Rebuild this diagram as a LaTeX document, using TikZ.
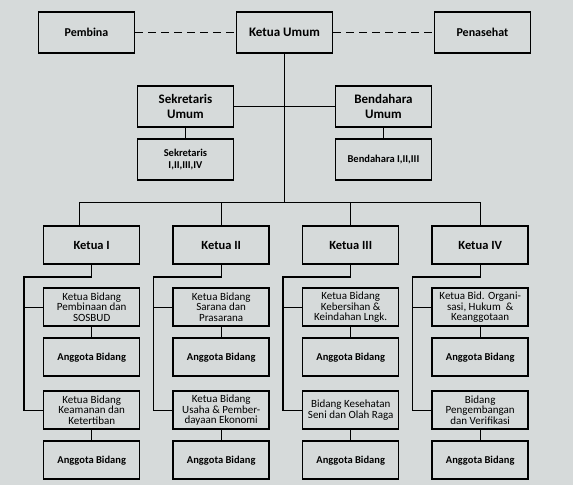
\documentclass[tikz,border=0pt]{standalone}
\usepackage{fontspec}
\setmainfont{Carlito}
\usetikzlibrary{matrix,positioning,calc}
\definecolor{paper}{RGB}{214,218,218}

\begin{document}
\begin{tikzpicture}[x=1pt, y=-1pt,
	  box/.style={draw, line width=1.5pt, minimum width=96pt, minimum height=41pt, align=center, inner sep=2pt},
	  head/.style={box, font=\bfseries\fontsize{13}{14.5}\selectfont},
	  kt/.style={box, minimum height=38pt, font=\bfseries\fontsize{12.5}{14}\selectfont},
	  bid/.style={box, minimum height=38pt, inner sep=1pt, font=\fontsize{11}{10.7}\selectfont},
	  ag/.style={box, minimum height=38pt, font=\bfseries\fontsize{10.5}{12}\selectfont},
	  link/.style={line width=1.3pt}]
	  \useasboundingbox (0,0) rectangle (573,485);
	  \fill[paper] (0,0) rectangle (573,485);
	  % pengurus inti
	  \matrix (top) [anchor=north west, inner sep=0pt, row sep=10.5pt, column sep=1.5pt] at (37.5,11)
	  {
		\node[head, font=\bfseries\fontsize{12}{14}\selectfont] (pembina) {Pembina}; & &
		\node[head] (ketum) {Ketua Umum}; & &
		\node[head, font=\bfseries\fontsize{12}{14}\selectfont] (penasehat) {Penasehat}; \\[21pt]
		& \node[head] (sekum) {Sekretaris\\Umum}; & & \node[head] (bendum) {Bendahara\\Umum}; & \\
		& \node[head, font=\bfseries\fontsize{10.5}{12}\selectfont] (sek) {Sekretaris\\I,II,III,IV}; & &
		\node[head, font=\bfseries\fontsize{10.5}{12}\selectfont] (bend) {Bendahara I,II,III}; & \\
	  };
	  % bidang
	  \matrix (bidang) [anchor=north west, inner sep=0pt, row sep=10.5pt, column sep=32pt] at (42.75,225.25)
	  {
		\node[kt] (ketua1) {Ketua I}; & \node[kt] (ketua2) {Ketua II}; &
		\node[kt] (ketua3) {Ketua III}; & \node[kt] (ketua4) {Ketua IV}; \\[12pt]
		\node[bid] (bidA1) {Ketua Bidang\\Pembinaan dan\\SOSBUD}; &
		\node[bid] (bidA2) {Ketua Bidang\\Sarana dan\\Prasarana}; &
		\node[bid] (bidA3) {Ketua Bidang\\Kebersihan \&\\Keindahan Lngk.}; &
		\node[bid] (bidA4) {Ketua Bid. Organi-\\sasi, Hukum \ \&\\Keanggotaan}; \\
		\node[ag] (angA1) {Anggota Bidang}; & \node[ag] (angA2) {Anggota Bidang}; &
		\node[ag] (angA3) {Anggota Bidang}; & \node[ag] (angA4) {Anggota Bidang}; \\[3pt]
		\node[bid] (bidB1) {Ketua Bidang\\Keamanan dan\\Ketertiban}; &
		\node[bid] (bidB2) {Ketua Bidang\\Usaha \& Pember-\\dayaan Ekonomi}; &
		\node[bid] (bidB3) {Bidang Kesehatan\\Seni dan Olah Raga}; &
		\node[bid] (bidB4) {Bidang\\Pengembangan\\dan Verifikasi}; \\
		\node[ag] (angB1) {Anggota Bidang}; & \node[ag] (angB2) {Anggota Bidang}; &
		\node[ag] (angB3) {Anggota Bidang}; & \node[ag] (angB4) {Anggota Bidang}; \\
	  };
	  \coordinate (bus) at ($(ketum.south)+(0,149)$);
	  \path[link, dash pattern=on 8pt off 5pt]
	  (pembina) edge (ketum)
	  (ketum) edge (penasehat);
	  \path[link]
	  (sekum) edge (bendum)
	          edge (sek)
	  (bendum) edge (bend)
	  (ketum) edge (bus)
	  (ketua2) edge (ketua2 |- bus)
	  (ketua3) edge (ketua3 |- bus);
	  \draw[link] ([xshift=-12pt]ketua1.north) |- (bus) -| (ketua4);
	  % garis ketua ke bidang
	  \draw[link] (ketua1.south) -- ++(0,12) -| ([xshift=-19pt]bidB1.west) -- (bidB1);
	  \draw[link] (ketua2.south) -- ++(0,12) -| ([xshift=-19pt]bidB2.west) -- (bidB2);
	  \draw[link] (ketua3.south) -- ++(0,12) -| ([xshift=-19pt]bidB3.west) -- (bidB3);
	  \draw[link] (ketua4.south) -- ++(0,12) -| ([xshift=-19pt]bidB4.west) -- (bidB4);
	  \path[link]
	  ([xshift=-19pt]bidA1.west) edge (bidA1)
	  ([xshift=-19pt]bidA2.west) edge (bidA2)
	  ([xshift=-19pt]bidA3.west) edge (bidA3)
	  ([xshift=-19pt]bidA4.west) edge (bidA4)
	  (bidA1) edge (angA1)
	  (bidA2) edge (angA2)
	  (bidA3) edge (angA3)
	  (bidA4) edge (angA4)
	  (bidB1) edge (angB1)
	  (bidB2) edge (angB2)
	  (bidB3) edge (angB3)
	  (bidB4) edge (angB4);
\end{tikzpicture}
\end{document}
